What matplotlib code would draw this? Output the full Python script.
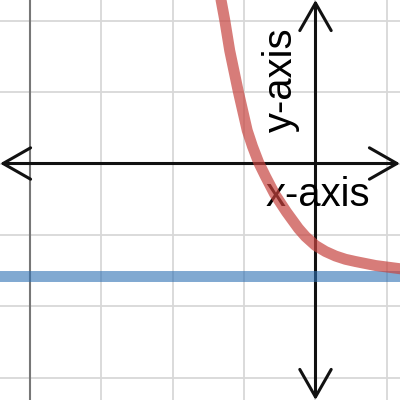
import matplotlib
matplotlib.use('Agg')
import matplotlib.pyplot as plt

# ---- data (grid units) ----
grid_x = [-4, -3, -2, -1, 0, 1]
grid_y = [2, 1, 0, -1, -2, -3]
dark_grid_x = [-4]
curve_x = [-1.34, -1.32, -1.27, -1.20, -1.08, -0.955, -0.881, -0.795, -0.699, -0.573,
           -0.406, -0.238, -0.140, 0.0, 0.140, 0.28, 0.420, 0.559, 0.84, 1.19, 1.30]
curve_y = [2.45, 2.28, 2.01, 1.58, 1.007, 0.462, 0.238, 0.014, -0.182, -0.424,
           -0.678, -0.909, -1.021, -1.147, -1.231, -1.294, -1.340, -1.371, -1.427, -1.473, -1.49]
hline_y = -1.575
x_label = "x-axis"
y_label = "y-axis"
x_label_pos = (-0.705, -0.594)
y_label_pos = (-0.329, 0.44)

# view window
xmin, xmax = -4.413, 1.182
ymin, ymax = -3.308, 2.287

fig = plt.figure(figsize=(4, 4), dpi=100)
ax = fig.add_axes([0, 0, 1, 1])
ax.set_xlim(xmin, xmax)
ax.set_ylim(ymin, ymax)
ax.axis('off')

# grid
for gx in grid_x:
    if gx in dark_grid_x:
        ax.axvline(gx, color='#777777', lw=1.5, zorder=1)
    else:
        ax.axvline(gx, color='#d8d8d8', lw=1.3, zorder=0.5)
for gy in grid_y:
    ax.axhline(gy, color='#d8d8d8', lw=1.3, zorder=0.5)

# black axes with open arrow heads
arrow_style = '<->,head_length=19.8,head_width=11.3'
for (a, b) in [((xmin, 0), (xmax, 0)), ((0, ymin), (0, ymax))]:
    ax.annotate('', xy=a, xytext=b, xycoords='data', textcoords='data',
                arrowprops=dict(arrowstyle=arrow_style, color='#111111', lw=2.2,
                                shrinkA=0, shrinkB=0, mutation_scale=1),
                zorder=2, annotation_clip=False)

# labels
ax.text(x_label_pos[0], x_label_pos[1], x_label, fontsize=28.8, family='Liberation Sans',
        ha='left', va='baseline', color='black', zorder=3)
ax.text(y_label_pos[0], y_label_pos[1], y_label, fontsize=28.8, family='Liberation Sans',
        ha='left', va='baseline', rotation=90, rotation_mode='anchor', color='black', zorder=3)

# blue horizontal line
ax.axhline(hline_y, color='#2d70b3', alpha=0.6, lw=7.9, zorder=4)

# red curve
ax.plot(curve_x, curve_y, color='#c74440', alpha=0.7, lw=7.9, solid_capstyle='butt',
        solid_joinstyle='round', zorder=5)

fig.savefig('out.png', dpi=100)
